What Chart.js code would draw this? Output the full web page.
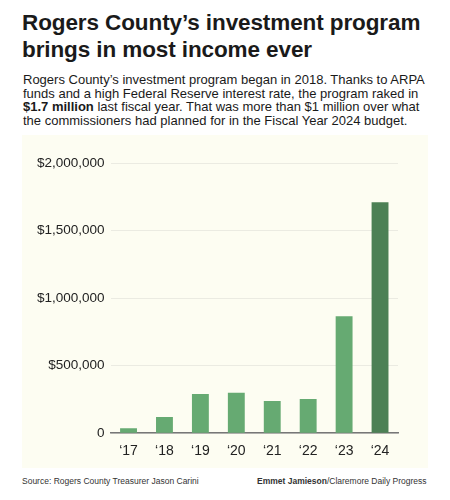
<!DOCTYPE html>
<html>
<head>
<meta charset="utf-8">
<script src="https://cdn.jsdelivr.net/npm/chart.js@4"></script>
<style>
  body { margin: 0; width: 450px; height: 500px; background: #fff; font-family: "Liberation Sans", Arial, sans-serif; color: #1a1a1a; position: relative; overflow: hidden; }
  h1 { position: absolute; left: 22px; top: 9px; margin: 0; font-size: 22.5px; line-height: 27px; font-weight: bold; letter-spacing: -0.1px; }
  .sub { position: absolute; left: 23px; top: 73px; width: 420px; margin: 0; font-size: 13px; line-height: 13.5px; }
  .panel { position: absolute; left: 22px; top: 135px; width: 406px; height: 333px; background: #fdfdf2; }
  .foot { position: absolute; top: 476px; font-size: 8.5px; color: #333; }
</style>
</head>
<body>
<h1>Rogers County’s investment program<br>brings in most income ever</h1>
<p class="sub">Rogers County’s investment program began in 2018. Thanks to ARPA<br>funds and a high Federal Reserve interest rate, the program raked in<br><b>$1.7 million</b> last fiscal year. That was more than $1 million over what<br>the commissioners had planned for in the Fiscal Year 2024 budget.</p>
<div class="panel"><canvas id="grafico" width="406" height="333"></canvas></div>
<div class="foot" style="left:22px">Source: Rogers County Treasurer Jason Carini</div>
<div class="foot" style="left:257px"><b>Emmet Jamieson</b>/Claremore Daily Progress</div>
<script>
// ─── Datos ───────────────────────────────────────
const años    = ["‘17", "‘18", "‘19", "‘20", "‘21", "‘22", "‘23", "‘24"];
const ingresos = [37000, 119000, 291000, 300000, 239000, 254000, 866000, 1710000];
const ticksY  = [0, 500000, 1000000, 1500000, 2000000];

// ─── Gráfico ──────────────────────────────────────
const colorVerde = '#66aa72';
const colorVerdeOscuro = '#4c8055';
const colores = ingresos.map((v, i) => i === ingresos.length - 1 ? colorVerdeOscuro : colorVerde);

new Chart(document.getElementById('grafico').getContext('2d'), {
  type: 'bar',
  data: {
    labels: años,
    datasets: [{
      data: ingresos,
      backgroundColor: colores,
      borderWidth: 0,
      barPercentage: 0.47,
      categoryPercentage: 1
    }]
  },
  options: {
    responsive: false,
    animation: false,
    layout: { padding: { top: 28, right: 30, left: 9, bottom: 6 } },
    plugins: { legend: { display: false }, tooltip: { enabled: false } },
    scales: {
      x: {
        grid: { display: false },
        border: { color: '#777', width: 1.5 },
        ticks: { color: '#222', font: { family: "'Liberation Sans', Arial", size: 14 }, padding: 2 }
      },
      y: {
        min: 0,
        max: 2000000,
        afterBuildTicks: axis => { axis.ticks = ticksY.map(v => ({ value: v })); },
        grid: { color: '#ebebe2', drawTicks: false },
        border: { display: false },
        ticks: {
          color: '#222',
          padding: 6,
          font: { family: "'Liberation Sans', Arial", size: 13.5 },
          callback: v => v === 0 ? '0' : '$' + v.toLocaleString('en-US')
        }
      }
    }
  }
});
</script>
</body>
</html>
